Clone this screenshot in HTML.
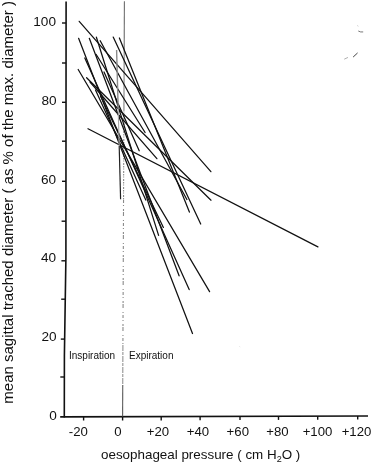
<!DOCTYPE html>
<html><head><meta charset="utf-8"><style>
html,body{margin:0;padding:0;background:#fff;width:373px;height:465px;overflow:hidden}
svg{display:block}
text{font-family:"Liberation Sans",Arial,sans-serif;fill:#111}
</style></head><body>
<svg width="373" height="465" viewBox="0 0 373 465">
<rect width="373" height="465" fill="#fff"/>
<!-- axes -->
<g stroke="#111" stroke-width="1.6" fill="none" stroke-linecap="butt">
<path d="M66.1 1.5 L65.9 258 L64.4 355 L64.3 417.6"/>
<path d="M60.2 416.9 L368 416"/>
</g>
<!-- y ticks -->
<g stroke="#111" stroke-width="1.4">
<path d="M62 23 H66.1"/><path d="M62 63 H66.1"/><path d="M62 102.3 H66.0"/><path d="M62 141.2 H66.0"/><path d="M62 181.3 H66.0"/><path d="M61.6 221.2 H65.9"/><path d="M61.4 260.8 H65.9"/><path d="M61.2 299.2 H65.3"/><path d="M60.8 339.1 H64.6"/><path d="M60.3 377 H64.4"/>
</g>
<!-- x ticks -->
<g stroke="#111" stroke-width="1.4">
<path d="M83.6 417 V420.5"/><path d="M122.6 417 V420.5"/><path d="M161.2 417 V420.5"/><path d="M200.1 416.8 V420.3"/><path d="M240 416.6 V420"/><path d="M278.5 416.5 V419.9"/><path d="M317.7 416.3 V419.8"/><path d="M357.7 416.1 V419.6"/>
</g>
<!-- zero line -->
<g fill="none" stroke-width="1.1">
<path d="M124.40 1.3 L124.19 50" stroke="#6e6e6e"/>
<path d="M124.19 50 L123.93 110" stroke="#858585"/>
<path d="M123.93 110 L123.54 200" stroke="#8c8c8c" stroke-dasharray="1.5 1 1 1.5 2 1"/>
<path d="M123.54 200 L122.91 345" stroke="#8a8a8a" stroke-dasharray="3 2 1 3 2 1 4 4 1 2"/>
<path d="M122.91 345 L122.74 385" stroke="#939393" stroke-dasharray="6 1 3 1"/>
<path d="M122.74 385 L122.60 416.5" stroke="#5a5a5a"/>
</g>
<!-- data lines -->
<g stroke="#111" stroke-width="1.25" fill="none" stroke-linecap="round">
<path d="M79.2 21.3 L210.9 171.7"/>
<path d="M78.6 38.3 L192.5 333.5"/>
<path d="M84.8 58 L189.2 289.6"/>
<path d="M89.3 38.3 L179.1 275.8"/>
<path d="M96.2 54.5 L145.1 132.5"/>
<path d="M104 72 L139.2 150.8"/>
<path d="M96.4 37.2 L158.6 235.4"/>
<path d="M95.5 90 L145.8 200.1"/>
<path d="M100.5 96 L163.4 227.4"/>
<path d="M100.2 40.7 L186.9 199.5"/>
<path d="M113.2 37.1 L200.7 224"/>
<path d="M119.4 38 L189.4 212.1"/>
<path d="M78.2 69.5 L209.6 291.6"/>
<path d="M86.6 77.7 L211 200.2"/>
<path d="M90 82 L156.9 158.7"/>
<path d="M88 128.7 L317.9 246.9"/>
</g>
<path d="M116.6 50 L118.0 102" stroke="#8a8a8a" stroke-width="1.4"/>
<path d="M118.0 102 L119.2 146" stroke="#a8a8a8" stroke-width="1.1"/>
<path d="M119.2 146 L120.6 199.3" stroke="#222" stroke-width="1.2"/>
<!-- specks -->
<g fill="none" stroke-linecap="round">
<path d="M357.7 25.8 l0.3 0.2" stroke="#bbb" stroke-width="0.9"/>
<path d="M358.6 31.2 Q360.5 32.4 362.8 32" stroke="#666" stroke-width="0.9"/>
<path d="M353.4 56.8 L357.3 53.2" stroke="#444" stroke-width="1"/>
<path d="M344.6 59 L347.6 57.6" stroke="#999" stroke-width="0.8"/>
<path d="M239.6 346.6 l0.3 0.2" stroke="#ddd" stroke-width="0.8"/>
</g>
<!-- y tick labels -->
<g font-size="13.6" text-anchor="end">
<text x="56" y="26">100</text>
<text x="56.5" y="105">80</text>
<text x="56" y="183.7">60</text>
<text x="56" y="262.3">40</text>
<text x="56.5" y="341.3">20</text>
<text x="56.7" y="419.7">0</text>
</g>
<!-- x tick labels -->
<g font-size="13.2" text-anchor="middle">
<text x="78.3" y="435.5">-20</text>
<text x="118" y="435.5">0</text>
<text x="158" y="435.5">+20</text>
<text x="197.9" y="435.5">+40</text>
<text x="237.8" y="435.5">+60</text>
<text x="277.4" y="435.5">+80</text>
<text x="317.5" y="435.5">+100</text>
<text x="356.5" y="435.5">+120</text>
</g>
<text x="101" y="458.9" font-size="13.4">oesophageal pressure ( cm H<tspan font-size="9" dy="3">2</tspan><tspan dy="-3">O )</tspan></text>
<text transform="translate(12.5 403.7) rotate(-90)" font-size="15">mean sagittal trached diameter ( as % of the max. diameter )</text>
<text x="69" y="358.7" font-size="10">Inspiration</text>
<text x="129" y="359.2" font-size="10">Expiration</text>
</svg>
</body></html>
